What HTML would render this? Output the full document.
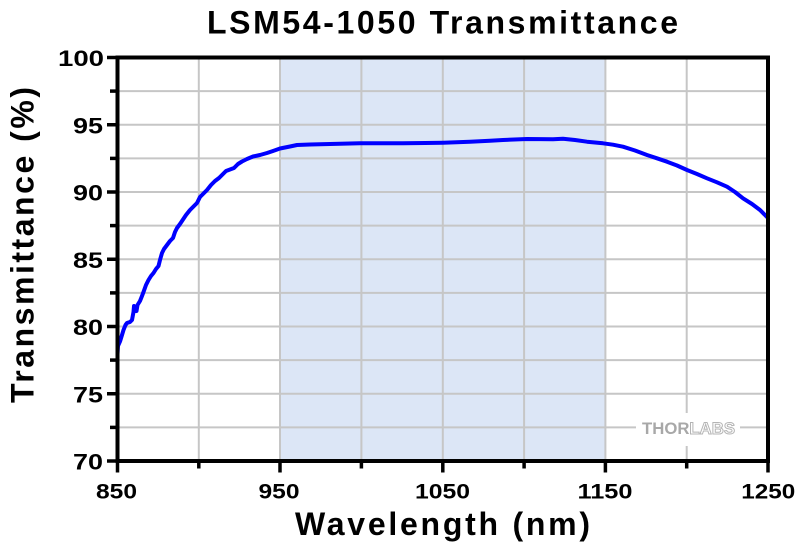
<!DOCTYPE html>
<html>
<head>
<meta charset="utf-8">
<style>
  html,body{margin:0;padding:0;background:#fff;}
  svg{display:block;}
  text{font-family:"Liberation Sans",Arial,sans-serif;font-weight:bold;fill:#000;}
</style>
</head>
<body>
<svg width="800" height="547" viewBox="0 0 800 547" xmlns="http://www.w3.org/2000/svg">
  <rect x="0" y="0" width="800" height="547" fill="#fff"/>
  <rect x="280" y="57.5" width="325.3" height="403.5" fill="#dce6f6"/>
  <g stroke="#c6c6c6" stroke-width="2">
    <line x1="198.8" y1="57.5" x2="198.8" y2="461"/>
    <line x1="280" y1="57.5" x2="280" y2="461"/>
    <line x1="361.4" y1="57.5" x2="361.4" y2="461"/>
    <line x1="442.8" y1="57.5" x2="442.8" y2="461"/>
    <line x1="524.1" y1="57.5" x2="524.1" y2="461"/>
    <line x1="605.4" y1="57.5" x2="605.4" y2="461"/>
    <line x1="686.7" y1="57.5" x2="686.7" y2="461"/>
    <line x1="117.5" y1="91.1" x2="768" y2="91.1"/>
    <line x1="117.5" y1="124.75" x2="768" y2="124.75"/>
    <line x1="117.5" y1="158.4" x2="768" y2="158.4"/>
    <line x1="117.5" y1="192" x2="768" y2="192"/>
    <line x1="117.5" y1="225.6" x2="768" y2="225.6"/>
    <line x1="117.5" y1="259.25" x2="768" y2="259.25"/>
    <line x1="117.5" y1="292.9" x2="768" y2="292.9"/>
    <line x1="117.5" y1="326.5" x2="768" y2="326.5"/>
    <line x1="117.5" y1="360.1" x2="768" y2="360.1"/>
    <line x1="117.5" y1="393.75" x2="768" y2="393.75"/>
    <line x1="117.5" y1="427.4" x2="768" y2="427.4"/>
  </g>
  <rect x="636" y="413" width="104" height="33" fill="#fff"/>
  <text x="642" y="434" font-size="17" textLength="93" lengthAdjust="spacingAndGlyphs"><tspan fill="#a8a8a8">THOR</tspan><tspan fill="#fff" stroke="#b4b4b4" stroke-width="1">LABS</tspan></text>
  <clipPath id="pc"><rect x="117.5" y="57.5" width="650.5" height="403.5"/></clipPath>
  <polyline clip-path="url(#pc)" fill="none" stroke="#0000ff" stroke-width="4" stroke-linejoin="round" stroke-linecap="round"
    points="117.5,354 118,346 120,341.5 122,335 123.5,330 125.5,325 127,323 130,322 132,320 133.5,312 134,306 135,307 136.5,311 137.5,305 140,301 142,296 143.5,292 146,285 148.5,280 151,276 153.5,273 156,269 158.5,266 160,260 162,253 164,249 167,245 170,241 173,238 175,232 177,228 180,224 182,221 186,215 190,210 193,207 197,203 200,197 204,193 207,190 211,185 215,181 219,178 222,175 226,171 230,169.5 234,168 238,164 242,161.5 247,159 253,156.5 260,155 267,153 273,151 280,148.5 290,146.5 297,145 310,144.5 320,144.3 340,143.8 360,143.3 380,143.3 403,143.3 425,143 443,142.7 470,141.7 490,140.7 503,140 527,139 553,139.3 563,138.7 575,140 587,141.7 603,143.3 613,144.7 623,146.7 635,150.5 647,155 657,158.3 667,161.7 677,165.5 687,170 697,174 707,178.3 717,182.3 727,186.7 735,192 743,198.3 752,204 760,210 765,215 770,220"/>
  <rect x="117.5" y="57.5" width="650.5" height="403.5" fill="none" stroke="#000" stroke-width="4"/>
  <g stroke="#000" stroke-width="3.5">
    <line x1="107" y1="57.5" x2="117.5" y2="57.5"/>
    <line x1="110" y1="91.1" x2="117.5" y2="91.1"/>
    <line x1="107" y1="124.75" x2="117.5" y2="124.75"/>
    <line x1="110" y1="158.4" x2="117.5" y2="158.4"/>
    <line x1="107" y1="192" x2="117.5" y2="192"/>
    <line x1="110" y1="225.6" x2="117.5" y2="225.6"/>
    <line x1="107" y1="259.25" x2="117.5" y2="259.25"/>
    <line x1="110" y1="292.9" x2="117.5" y2="292.9"/>
    <line x1="107" y1="326.5" x2="117.5" y2="326.5"/>
    <line x1="110" y1="360.1" x2="117.5" y2="360.1"/>
    <line x1="107" y1="393.75" x2="117.5" y2="393.75"/>
    <line x1="110" y1="427.4" x2="117.5" y2="427.4"/>
    <line x1="107" y1="461" x2="117.5" y2="461"/>
    <line x1="117.5" y1="461" x2="117.5" y2="472.5"/>
    <line x1="198.8" y1="461" x2="198.8" y2="468.5"/>
    <line x1="280" y1="461" x2="280" y2="472.5"/>
    <line x1="361.4" y1="461" x2="361.4" y2="468.5"/>
    <line x1="442.8" y1="461" x2="442.8" y2="472.5"/>
    <line x1="524.1" y1="461" x2="524.1" y2="468.5"/>
    <line x1="605.4" y1="461" x2="605.4" y2="472.5"/>
    <line x1="686.7" y1="461" x2="686.7" y2="468.5"/>
    <line x1="768" y1="461" x2="768" y2="472.5"/>
  </g>
  <g font-size="22" text-anchor="end">
    <text x="104" y="66" textLength="46" lengthAdjust="spacingAndGlyphs">100</text>
    <text x="103" y="133.25" textLength="30" lengthAdjust="spacingAndGlyphs">95</text>
    <text x="103" y="200.5" textLength="30" lengthAdjust="spacingAndGlyphs">90</text>
    <text x="103" y="267.75" textLength="30" lengthAdjust="spacingAndGlyphs">85</text>
    <text x="103" y="335" textLength="30" lengthAdjust="spacingAndGlyphs">80</text>
    <text x="103" y="402.25" textLength="30" lengthAdjust="spacingAndGlyphs">75</text>
    <text x="103" y="469.5" textLength="30" lengthAdjust="spacingAndGlyphs">70</text>
  </g>
  <g font-size="21" text-anchor="middle">
    <text x="116.5" y="498.5" textLength="41" lengthAdjust="spacingAndGlyphs">850</text>
    <text x="279" y="498.5" textLength="41" lengthAdjust="spacingAndGlyphs">950</text>
    <text x="442.5" y="498.5" textLength="55" lengthAdjust="spacingAndGlyphs">1050</text>
    <text x="605" y="498.5" textLength="55" lengthAdjust="spacingAndGlyphs">1150</text>
    <text x="768.3" y="498.5" textLength="54" lengthAdjust="spacingAndGlyphs">1250</text>
  </g>
  <text x="207" y="33.5" font-size="32" textLength="471" lengthAdjust="spacing">LSM54-1050 Transmittance</text>
  <text x="295" y="535" font-size="32" textLength="295" lengthAdjust="spacing">Wavelength (nm)</text>
  <text transform="translate(33.5,403) rotate(-90)" x="0" y="0" font-size="32" textLength="316" lengthAdjust="spacing">Transmittance (%)</text>
</svg>
</body>
</html>
